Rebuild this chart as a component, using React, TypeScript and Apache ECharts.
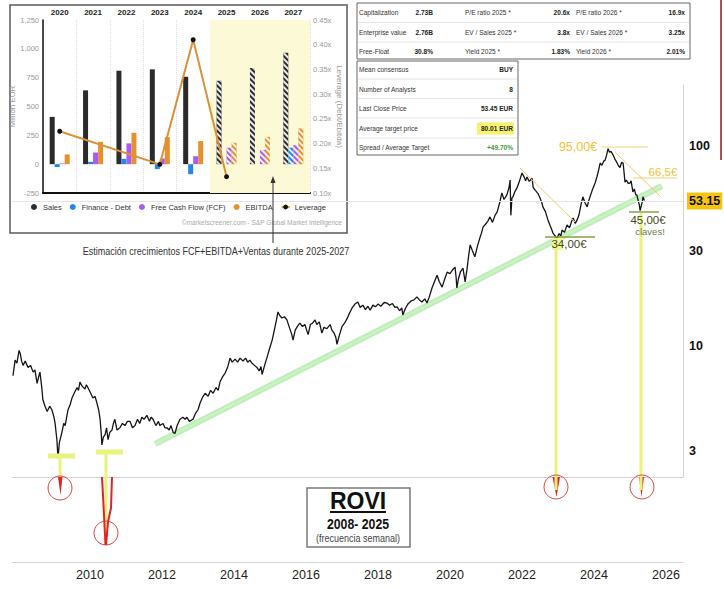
import React, { useEffect, useRef } from 'react';
import * as echarts from 'echarts';

// ---------- main price chart (weekly) ----------
const priceSeries: [number, number][] = [
  [2007.86, 7.1], [2007.92, 8.5], [2007.97, 8.2], [2008.03, 9.5], [2008.06, 9.2], [2008.1, 8.4], [2008.14, 8.0], [2008.2, 8.4],
  [2008.28, 7.8], [2008.35, 8.0], [2008.42, 7.4], [2008.47, 7.6], [2008.53, 6.5], [2008.58, 7.1], [2008.61, 7.4], [2008.66, 6.2],
  [2008.69, 5.4], [2008.75, 5.0], [2008.81, 4.7], [2008.88, 5.0], [2008.94, 4.8], [2009.0, 4.4], [2009.03, 4.1], [2009.08, 3.4],
  [2009.11, 2.75], [2009.15, 3.3], [2009.22, 3.7], [2009.27, 4.1], [2009.31, 4.0], [2009.36, 4.5], [2009.39, 4.8], [2009.45, 5.1],
  [2009.5, 5.5], [2009.56, 5.8], [2009.64, 6.2], [2009.68, 6.0], [2009.72, 6.6], [2009.78, 6.3], [2009.86, 6.1], [2009.9, 6.4],
  [2009.94, 6.2], [2010.0, 5.9], [2010.08, 5.5], [2010.14, 5.6], [2010.19, 5.2], [2010.24, 4.8], [2010.28, 4.3], [2010.31, 3.7],
  [2010.33, 3.2], [2010.37, 3.5], [2010.42, 3.6], [2010.46, 3.9], [2010.5, 3.4], [2010.55, 3.7], [2010.61, 3.8], [2010.65, 4.1],
  [2010.69, 4.3], [2010.75, 3.8], [2010.83, 3.9], [2010.9, 4.1], [2010.97, 4.0], [2011.04, 4.2], [2011.11, 4.2], [2011.18, 3.9],
  [2011.25, 4.0], [2011.32, 4.3], [2011.38, 4.1], [2011.44, 4.4], [2011.5, 4.3], [2011.58, 4.5], [2011.65, 4.2], [2011.7, 4.4],
  [2011.75, 4.3], [2011.83, 4.0], [2011.9, 4.2], [2011.94, 4.0], [2012.03, 4.1], [2012.08, 3.9], [2012.14, 3.9], [2012.2, 3.8],
  [2012.25, 4.0], [2012.31, 3.7], [2012.36, 3.65], [2012.42, 4.0], [2012.5, 4.3], [2012.58, 4.4], [2012.64, 4.3], [2012.69, 4.4],
  [2012.76, 4.2], [2012.86, 4.3], [2012.93, 4.6], [2013.0, 4.8], [2013.06, 5.2], [2013.14, 5.6], [2013.2, 5.8], [2013.28, 5.6],
  [2013.35, 6.0], [2013.42, 5.8], [2013.5, 6.2], [2013.56, 6.0], [2013.61, 6.6], [2013.68, 7.0], [2013.75, 7.3], [2013.82, 7.8],
  [2013.89, 8.7], [2013.95, 8.3], [2014.03, 8.6], [2014.1, 8.3], [2014.17, 8.7], [2014.25, 8.4], [2014.32, 8.7], [2014.38, 8.3],
  [2014.44, 8.5], [2014.5, 8.2], [2014.57, 8.0], [2014.64, 7.8], [2014.7, 7.5], [2014.75, 7.9], [2014.78, 7.2], [2014.85, 8.0],
  [2014.92, 8.8], [2014.98, 9.6], [2015.06, 10.7], [2015.12, 12.0], [2015.18, 13.5], [2015.22, 14.8], [2015.27, 14.2], [2015.33, 13.8],
  [2015.4, 14.0], [2015.47, 13.5], [2015.53, 12.5], [2015.6, 11.5], [2015.64, 10.7], [2015.7, 12.0], [2015.77, 12.6], [2015.83, 13.0],
  [2015.9, 12.5], [2015.97, 12.8], [2016.03, 11.8], [2016.06, 11.4], [2016.12, 12.8], [2016.18, 13.0], [2016.25, 13.5], [2016.3, 12.8],
  [2016.37, 13.2], [2016.44, 11.6], [2016.5, 12.4], [2016.58, 12.2], [2016.67, 12.8], [2016.72, 12.0], [2016.78, 11.6], [2016.83, 11.0],
  [2016.86, 10.2], [2016.92, 11.2], [2017.0, 12.5], [2017.07, 13.0], [2017.14, 13.7], [2017.2, 14.5], [2017.28, 15.5], [2017.36, 16.2],
  [2017.44, 16.6], [2017.5, 15.6], [2017.58, 16.0], [2017.65, 15.2], [2017.72, 15.8], [2017.78, 15.1], [2017.86, 16.0], [2017.93, 15.7],
  [2018.0, 16.2], [2018.08, 15.8], [2018.17, 16.5], [2018.25, 16.4], [2018.32, 16.0], [2018.4, 16.3], [2018.47, 15.6], [2018.53, 15.7],
  [2018.6, 15.0], [2018.66, 15.5], [2018.69, 14.3], [2018.76, 15.4], [2018.83, 16.2], [2018.92, 16.8], [2019.0, 17.0], [2019.08, 17.6],
  [2019.15, 17.0], [2019.22, 16.6], [2019.3, 17.2], [2019.36, 16.4], [2019.42, 17.5], [2019.5, 19.5], [2019.57, 21.0], [2019.64, 22.6],
  [2019.7, 21.0], [2019.78, 19.7], [2019.85, 21.5], [2019.92, 23.4], [2020.0, 23.0], [2020.07, 24.0], [2020.14, 24.8], [2020.17, 22.0],
  [2020.19, 19.5], [2020.23, 21.5], [2020.29, 23.5], [2020.36, 24.5], [2020.42, 20.9], [2020.47, 24.0], [2020.52, 28.5], [2020.56, 32.0],
  [2020.62, 30.0], [2020.69, 27.9], [2020.76, 31.5], [2020.83, 34.7], [2020.88, 37.0], [2020.92, 39.4], [2020.98, 40.5], [2021.05, 42.0],
  [2021.11, 44.2], [2021.18, 41.5], [2021.25, 45.0], [2021.31, 46.8], [2021.38, 52.0], [2021.44, 58.3], [2021.5, 54.0], [2021.58, 57.0],
  [2021.64, 62.0], [2021.67, 67.6], [2021.69, 45.0], [2021.72, 55.0], [2021.75, 55.7], [2021.8, 59.0], [2021.86, 61.7], [2021.92, 66.0],
  [2022.0, 73.3], [2022.05, 70.5], [2022.1, 67.0], [2022.14, 70.0], [2022.2, 66.5], [2022.28, 69.0], [2022.31, 62.0], [2022.37, 60.0],
  [2022.44, 58.0], [2022.5, 55.0], [2022.55, 52.0], [2022.58, 49.6], [2022.65, 47.0], [2022.72, 42.7], [2022.78, 40.0], [2022.83, 38.0],
  [2022.86, 36.7], [2022.92, 35.5], [2022.97, 34.5], [2023.03, 36.5], [2023.08, 35.5], [2023.11, 38.0], [2023.18, 37.0], [2023.25, 40.3],
  [2023.32, 39.0], [2023.38, 42.0], [2023.42, 43.6], [2023.48, 41.0], [2023.53, 42.7], [2023.58, 45.0], [2023.61, 47.9], [2023.65, 52.0],
  [2023.69, 55.7], [2023.75, 52.0], [2023.81, 49.6], [2023.85, 53.0], [2023.89, 55.7], [2023.95, 60.0], [2024.03, 65.3], [2024.08, 70.0],
  [2024.13, 76.0], [2024.17, 82.2], [2024.22, 80.0], [2024.27, 84.0], [2024.31, 85.0], [2024.35, 90.0], [2024.39, 97.0], [2024.43, 93.0],
  [2024.47, 94.0], [2024.53, 90.2], [2024.58, 86.0], [2024.63, 83.0], [2024.67, 80.3], [2024.72, 78.0], [2024.77, 83.0], [2024.81, 82.0],
  [2024.84, 72.0], [2024.86, 66.0], [2024.9, 67.5], [2024.95, 65.0], [2025.0, 65.3], [2025.03, 67.0], [2025.06, 62.0], [2025.08, 58.9],
  [2025.12, 61.0], [2025.16, 57.0], [2025.19, 57.0], [2025.23, 53.0], [2025.26, 50.7], [2025.28, 47.5], [2025.31, 50.0], [2025.34, 52.5],
  [2025.36, 55.7], [2025.4, 53.45],
];
const lastPriceLabel = 53.15;
const priceTicks = [3, 10, 30, 100];
const yearTicks = [2010, 2012, 2014, 2016, 2018, 2020, 2022, 2024, 2026];

// ---------- inset: fundamentals ----------
const insetYears = ['2020', '2021', '2022', '2023', '2024', '2025', '2026', '2027'];
const sales = [410, 640, 810, 822, 758, 723, 833, 966];
const financeDebt = [-25, 20, 46, -43, -87, null, null, 142];
const fcf = [6, 101, 180, 49, 69, 142, 122, 165];
const ebitda = [84, 194, 272, 234, 200, 185, 237, 310];
const leverage = [0.225, null, null, 0.158, 0.41, 0.133, null, null];
const firstEstimateIndex = 5;

// ---------- tables ----------
const tableTop = [
  ['Capitalization', '2.73B', 'P/E ratio 2025 *', '20.6x', 'P/E ratio 2026 *', '16.9x'],
  ['Enterprise value', '2.76B', 'EV / Sales 2025 *', '3.8x', 'EV / Sales 2026 *', '3.25x'],
  ['Free-Float', '30.8%', 'Yield 2025 *', '1.83%', 'Yield 2026 *', '2.01%'],
];
const tableConsensus = [
  ['Mean consensus', 'BUY'],
  ['Number of Analysts', '8'],
  ['Last Close Price', '53.45 EUR'],
  ['Average target price', '80.01 EUR'],
  ['Spread / Average Target', '+49.70%'],
];

const SANS = '"Liberation Sans", Arial, sans-serif';

const hatchDecal = {
  symbol: 'rect',
  symbolSize: 1,
  dashArrayX: [1, 0],
  dashArrayY: [1.6, 1.6],
  rotation: Math.PI / 4,
  color: 'rgba(255,255,255,0.9)',
};
const withHatch = (arr: (number | null)[]) =>
  arr.map((v, i) => (v == null ? null : i >= firstEstimateIndex ? { value: v, itemStyle: { decal: hatchDecal } } : v));

// narrow-looking text: regular sans squeezed horizontally
function txt(x: number, y: number, text: string, o: any = {}) {
  return {
    type: 'text',
    x,
    y,
    scaleX: o.sx ?? 0.82,
    z: o.z ?? 20,
    style: {
      text,
      fill: o.fill ?? '#333',
      fontSize: o.size ?? 8,
      fontFamily: SANS,
      fontWeight: o.weight ?? 'normal',
      textAlign: o.align ?? 'left',
      textVerticalAlign: 'middle',
    },
  };
}
function ln(x1: number, y1: number, x2: number, y2: number, stroke: string, w = 1, z = 15, opacity = 1) {
  return { type: 'line', z, shape: { x1, y1, x2, y2 }, style: { stroke, lineWidth: w, opacity } };
}

function buildGraphics() {
  const g: any[] = [];
  // inset frame
  g.push({ type: 'rect', z: 0, shape: { x: 10, y: 5, width: 337, height: 228 }, style: { fill: '#fff', stroke: '#5a5a5a', lineWidth: 1.5 } });
  g.push({ type: 'rect', z: 1, shape: { x: 210, y: 20, width: 100, height: 173 }, style: { fill: '#fcfad6' } });
  g.push(txt(342, 222, '©marketscreener.com - S&P Global Market Intelligence', { align: 'right', fill: '#aaa', size: 8 }));
  // arrow + caption
  g.push(ln(273, 181, 273, 243, '#333', 1, 20));
  g.push({ type: 'polygon', z: 20, shape: { points: [[273, 176], [270.5, 183], [275.5, 183]] }, style: { fill: '#333' } });
  g.push(txt(216, 251, 'Estimación crecimientos FCF+EBITDA+Ventas durante 2025-2027', { align: 'center', size: 11, fill: '#333' }));

  // top table
  g.push({ type: 'rect', z: 0, shape: { x: 357, y: 3, width: 333, height: 56 }, style: { fill: '#fff', stroke: '#666', lineWidth: 1 } });
  [22.5, 42].forEach((y) => g.push(ln(358, y, 689, y, '#e4e4e4', 1, 1)));
  const rowsY1 = [12.7, 32.3, 51.7];
  tableTop.forEach((r, i) => {
    const y = rowsY1[i];
    g.push(txt(359, y, r[0]));
    g.push(txt(433, y, r[1], { align: 'right', weight: 'bold', fill: '#222' }));
    g.push(txt(465, y, r[2]));
    g.push(txt(570, y, r[3], { align: 'right', weight: 'bold', fill: '#222' }));
    g.push(txt(576, y, r[4]));
    g.push(txt(685, y, r[5], { align: 'right', weight: 'bold', fill: '#222' }));
  });
  // consensus table
  g.push({ type: 'rect', z: 0, shape: { x: 357, y: 61, width: 161, height: 94 }, style: { fill: '#fff', stroke: '#666', lineWidth: 1 } });
  [79, 98.5, 118, 138].forEach((y) => g.push(ln(358, y, 517, y, '#e4e4e4', 1, 1)));
  g.push({ type: 'rect', z: 2, shape: { x: 477, y: 122.5, width: 37, height: 12 }, style: { fill: '#f6f26b' } });
  const rowsY2 = [69, 89, 108.5, 128.3, 147.3];
  tableConsensus.forEach((r, i) => {
    const y = rowsY2[i];
    g.push(txt(359, y, r[0]));
    g.push(txt(513, y, r[1], { align: 'right', weight: 'bold', fill: i === 4 ? '#3a9a3a' : '#222' }));
  });

  // ROVI box
  g.push({ type: 'rect', z: 5, shape: { x: 307, y: 488, width: 103, height: 59 }, style: { fill: '#fff', stroke: '#7a7a7a', lineWidth: 1.5 } });
  g.push(txt(358, 501, 'ROVI', { align: 'center', size: 23, weight: 'bold', fill: '#111', sx: 1 }));
  g.push(ln(330, 512, 386, 512, '#111', 2, 20));
  g.push(txt(358, 524, '2008- 2025', { align: 'center', size: 15, weight: 'bold', fill: '#111' }));
  g.push(txt(358, 538, '(frecuencia semanal)', { align: 'center', size: 11, fill: '#444' }));

  // green up-trend
  g.push(ln(155, 444, 662, 186, 'rgba(130,220,120,0.5)', 6, 3));
  g.push(ln(155, 444, 662, 186, 'rgba(210,248,200,0.6)', 2, 3));
  // orange down-trends
  g.push(ln(520, 168, 575, 222, '#f7c56e', 1, 4));
  g.push(ln(615, 152, 660, 196, '#f7c56e', 1, 4));
  g.push(ln(602, 147, 648, 147, '#f7cf6e', 1, 4));
  g.push(ln(633, 178, 677, 178, '#f7cf6e', 1, 4));
  g.push(txt(578, 147, '95,00€', { align: 'center', size: 12.5, fill: '#efc23a', sx: 1 }));
  g.push(txt(663, 172, '66,5€', { align: 'center', size: 11.5, fill: '#efc23a', sx: 1 }));
  // support levels
  g.push(ln(545, 237, 595, 237, '#8aa040', 1.5, 4));
  g.push({ type: 'rect', z: 4, shape: { x: 552, y: 238, width: 11, height: 12 }, style: { fill: '#f3f7a0' } });
  g.push(txt(569, 244, '34,00€', { align: 'center', size: 11.5, fill: '#3f4a1c', sx: 1 }));
  g.push(ln(629, 212, 659, 212, '#8aa040', 1.5, 4));
  g.push(txt(648, 220, '45,00€', { align: 'center', size: 11.5, fill: '#3f4a1c', sx: 1 }));
  g.push(txt(650, 231.5, 'claves!', { align: 'center', size: 9.5, fill: '#6b7b4b', sx: 1 }));

  // yellow markers
  const yel = '#e9f27c';
  g.push({ type: 'rect', z: 6, shape: { x: 48, y: 453.5, width: 27, height: 5 }, style: { fill: yel } });
  g.push({ type: 'rect', z: 6, shape: { x: 96, y: 449.5, width: 27, height: 5 }, style: { fill: yel } });
  g.push(ln(60, 458, 60, 478, yel, 3, 6));
  g.push(ln(106, 454, 106, 545, yel, 3, 6));
  g.push(ln(556, 238, 556, 490, yel, 3, 6));
  g.push(ln(641, 213, 641, 490, yel, 3, 6));

  // red circles and V marks
  const red = '#e02424';
  [[60, 488], [106, 533], [556, 487], [642, 487]].forEach(([cx, cy]) =>
    g.push({ type: 'circle', z: 7, shape: { cx, cy, r: 12 }, style: { fill: 'none', stroke: '#e04848', lineWidth: 1 } })
  );
  g.push({ type: 'polygon', z: 7, shape: { points: [[58, 477], [60.5, 495], [62.5, 477]] }, style: { fill: red } });
  g.push({ type: 'polygon', z: 5, shape: { points: [[552.5, 477], [556.5, 497], [560, 477]] }, style: { fill: red } });
  g.push({ type: 'polygon', z: 5, shape: { points: [[639, 477], [641.5, 497], [644, 477]] }, style: { fill: red } });
  g.push({ type: 'polyline', z: 7, shape: { points: [[102, 477], [103.5, 505], [105.5, 545]] }, style: { stroke: red, lineWidth: 2, fill: 'none' } });
  g.push({ type: 'polyline', z: 7, shape: { points: [[112, 477], [111, 508], [108, 522], [106, 545]] }, style: { stroke: red, lineWidth: 2, fill: 'none' } });

  // right border
  g.push(ln(721, 0, 721, 160, '#8a1c1c', 1.5, 20));
  return g;
}

const option: any = {
  animation: false,
  backgroundColor: '#fff',
  textStyle: { fontFamily: SANS },
  grid: [
    { left: 12, right: 41, top: 85, height: 392 },
    { left: 12, right: 41, top: 477, height: 85 },
    { left: 43, right: 414, top: 20, height: 173 },
  ],
  legend: {
    top: 203,
    left: 31,
    padding: 0,
    itemWidth: 8,
    itemHeight: 6,
    itemGap: 8,
    itemTextGap: 3,
    selectedMode: false,
    textStyle: { fontSize: 7.5, fontFamily: SANS, color: '#333' },
    data: [
      { name: 'Sales', icon: 'circle' },
      { name: 'Finance - Debt', icon: 'circle' },
      { name: 'Free Cash Flow (FCF)', icon: 'circle' },
      { name: 'EBITDA', icon: 'circle' },
      { name: 'Leverage' },
    ],
  },
  xAxis: [
    {
      gridIndex: 0, type: 'value', min: 2007.833, max: 2026.472,
      axisLine: { show: true, lineStyle: { color: '#d4d4d4' } },
      axisTick: { show: false }, axisLabel: { show: false }, splitLine: { show: false },
    },
    {
      gridIndex: 1, type: 'value', min: 2007.833, max: 2026.472,
      axisLine: { show: true, lineStyle: { color: '#d4d4d4' } },
      axisTick: { show: false }, splitLine: { show: false },
      axisLabel: { customValues: yearTicks, formatter: (v: number) => String(v), fontSize: 12.5, fontFamily: SANS, color: '#222', margin: 6 },
    },
    {
      gridIndex: 2, type: 'category', data: insetYears, position: 'top',
      axisLine: { show: false }, axisTick: { show: false },
      axisLabel: { fontSize: 8, fontWeight: 'bold', fontFamily: SANS, color: '#222', margin: 4 },
      splitLine: { show: true, lineStyle: { type: 'dotted', color: '#dcdcdc' } },
    },
    {
      gridIndex: 2, type: 'category', data: insetYears, position: 'bottom',
      axisLine: { show: true, onZero: false, lineStyle: { color: '#111', width: 2 } },
      axisTick: { show: false }, axisLabel: { show: false }, splitLine: { show: false },
    },
  ],
  yAxis: [
    {
      gridIndex: 0, type: 'log', logBase: 10, position: 'right', min: 2.213, max: 201.8,
      axisLine: { show: true, lineStyle: { color: '#d4d4d4' } },
      axisTick: { show: false }, splitLine: { show: false }, minorSplitLine: { show: false },
      axisLabel: { customValues: priceTicks, formatter: (v: number) => String(Math.round(v)), fontSize: 12.5, fontWeight: 'bold', color: '#111', margin: 6 },
    },
    { gridIndex: 1, type: 'value', show: false },
    {
      gridIndex: 2, type: 'value', min: -250, max: 1250, interval: 250,
      name: 'Million EUR', nameLocation: 'middle', nameGap: 25,
      nameTextStyle: { fontSize: 8, fontFamily: SANS, color: '#999' },
      axisLine: { show: true, lineStyle: { color: '#111', width: 1.5 } },
      axisTick: { show: false }, splitLine: { show: false },
      axisLabel: { fontSize: 7.5, fontFamily: SANS, color: '#999', margin: 4, formatter: (v: number) => v.toLocaleString('en-US') },
    },
    {
      gridIndex: 2, type: 'value', position: 'right', min: 0.1, max: 0.45, interval: 0.05,
      name: 'Leverage (Debt/Ebitda)', nameLocation: 'middle', nameGap: 24, nameRotate: -90,
      nameTextStyle: { fontSize: 8, fontFamily: SANS, color: '#999' },
      axisLine: { show: false }, axisTick: { show: false }, splitLine: { show: false },
      axisLabel: { fontSize: 7.5, fontFamily: SANS, color: '#999', margin: 3, formatter: (v: number) => v.toFixed(2) + 'x' },
    },
  ],
  series: [
    {
      name: 'ROVI', type: 'line', xAxisIndex: 0, yAxisIndex: 0, data: priceSeries,
      showSymbol: false, symbol: 'none', lineStyle: { color: '#151515', width: 1.3 }, z: 3,
      markLine: {
        silent: true, symbol: 'none',
        lineStyle: { color: '#e6e6e6', width: 1, type: 'solid' },
        label: {
          position: 'end', formatter: String(lastPriceLabel), backgroundColor: '#f4c40f',
          color: '#111', fontWeight: 'bold', fontSize: 12.5, padding: [2, 2], distance: 4,
        },
        data: [{ yAxis: lastPriceLabel }],
      },
    },
    { name: 'Sales', type: 'bar', xAxisIndex: 2, yAxisIndex: 2, data: withHatch(sales), barWidth: 5, barGap: '0%', itemStyle: { color: '#2b2b2b' } },
    { name: 'Finance - Debt', type: 'bar', xAxisIndex: 2, yAxisIndex: 2, data: withHatch(financeDebt), barWidth: 5, barGap: '0%', itemStyle: { color: '#1f88e8' } },
    { name: 'Free Cash Flow (FCF)', type: 'bar', xAxisIndex: 2, yAxisIndex: 2, data: withHatch(fcf), barWidth: 5, barGap: '0%', itemStyle: { color: '#a95cf2' } },
    { name: 'EBITDA', type: 'bar', xAxisIndex: 2, yAxisIndex: 2, data: withHatch(ebitda), barWidth: 5, barGap: '0%', itemStyle: { color: '#e8912c' } },
    {
      name: 'Leverage', type: 'line', xAxisIndex: 2, yAxisIndex: 3, data: leverage, connectNulls: true,
      symbol: 'circle', symbolSize: 5, showSymbol: true, z: 6,
      lineStyle: { color: '#d9913a', width: 2 }, itemStyle: { color: '#111' },
    },
  ],
  graphic: { elements: buildGraphics() },
};

export default function App() {
  const ref = useRef<HTMLDivElement>(null);
  useEffect(() => {
    const chart = echarts.init(ref.current!, null, { renderer: 'svg' });
    chart.setOption(option);
    return () => chart.dispose();
  }, []);
  return <div ref={ref} style={{ position: 'absolute', left: 0, top: 0, width: 724, height: 589, background: '#fff' }} />;
}
